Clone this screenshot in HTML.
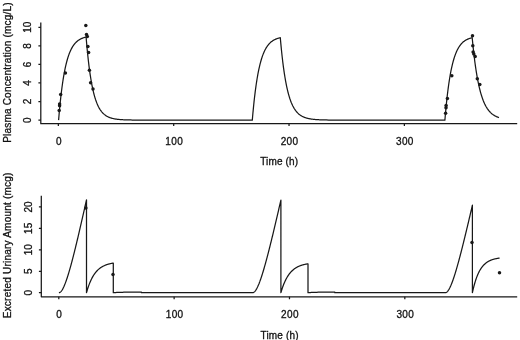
<!DOCTYPE html>
<html><head><meta charset="utf-8"><title>PK plot</title><style>html,body{margin:0;padding:0;background:#fff;width:520px;height:340px;overflow:hidden}svg{display:block}</style></head><body>
<svg width="520" height="340" viewBox="0 0 520 340">
<rect width="520" height="340" fill="#fff"/>
<g fill="none" stroke="#181818" stroke-width="1.25" stroke-linejoin="round" stroke-linecap="butt">
<path d="M40.8 22.6 V123.7 H517.2"/>
<path d="M41.3 195.7 V296.8 H517.2"/>
<path d="M40.8 120.1 H38.4 M40.8 101.54 H38.4 M40.8 82.98 H38.4 M40.8 64.42 H38.4 M40.8 45.86 H38.4 M40.8 27.3 H38.4 M41.3 292.7 H38.9 M41.3 271.25 H38.9 M41.3 249.8 H38.9 M41.3 228.35 H38.9 M41.3 206.9 H38.9 M58.35 123.7 V126.1 M58.8 296.8 V299.2 M173.69 123.7 V126.1 M174.14 296.8 V299.2 M289.03 123.7 V126.1 M289.48 296.8 V299.2 M404.37 123.7 V126.1 M404.82 296.8 V299.2"/>
<path d="M58.6 120.1 L58.89 116.68 L59.17 113.4 L59.46 110.24 L59.75 107.22 L60.03 104.32 L60.32 101.54 L60.61 98.86 L60.89 96.3 L61.18 93.84 L61.46 91.48 L61.75 89.22 L62.04 87.04 L62.32 84.96 L62.61 82.96 L62.9 81.03 L63.18 79.19 L63.47 77.42 L63.76 75.73 L64.04 74.1 L64.33 72.54 L64.62 71.04 L64.9 69.6 L65.19 68.22 L65.47 66.89 L65.76 65.62 L66.05 64.4 L66.33 63.23 L66.62 62.11 L66.91 61.03 L67.19 59.99 L67.48 59 L67.77 58.05 L68.05 57.13 L68.34 56.26 L68.63 55.42 L68.91 54.61 L69.2 53.83 L69.49 53.09 L69.77 52.38 L70.06 51.69 L70.34 51.03 L70.63 50.4 L70.92 49.8 L71.2 49.22 L71.49 48.66 L71.78 48.13 L72.06 47.61 L72.35 47.12 L72.64 46.65 L72.92 46.19 L73.21 45.76 L73.5 45.34 L73.78 44.94 L74.07 44.56 L74.36 44.19 L74.64 43.83 L74.93 43.49 L75.21 43.17 L75.5 42.86 L75.79 42.56 L76.07 42.27 L76.36 41.99 L76.65 41.73 L76.93 41.47 L77.22 41.23 L77.51 40.99 L77.79 40.77 L78.08 40.55 L78.37 40.35 L78.65 40.15 L78.94 39.96 L79.22 39.77 L79.51 39.6 L79.8 39.43 L80.08 39.27 L80.37 39.11 L80.66 38.96 L80.94 38.82 L81.23 38.68 L81.52 38.55 L81.8 38.43 L82.09 38.31 L82.38 38.19 L82.66 38.08 L82.95 37.97 L83.24 37.87 L83.52 37.77 L83.81 37.68 L84.09 37.58 L84.38 37.5 L84.67 37.41 L84.95 37.33 L85.24 37.26 L85.53 37.18 L85.81 37.11 L86.1 37.04 L86.39 40.5 L86.68 43.81 L86.96 46.99 L87.25 50.03 L87.54 52.94 L87.83 55.74 L88.12 58.42 L88.4 60.98 L88.69 63.44 L88.98 65.8 L89.27 68.06 L89.56 70.23 L89.84 72.3 L90.13 74.29 L90.42 76.2 L90.71 78.02 L91 79.77 L91.28 81.45 L91.57 83.06 L91.86 84.6 L92.15 86.08 L92.44 87.49 L92.72 88.85 L93.01 90.15 L93.3 91.4 L93.59 92.59 L93.88 93.74 L94.16 94.83 L94.45 95.88 L94.74 96.89 L95.03 97.86 L95.32 98.78 L95.6 99.67 L95.89 100.52 L96.18 101.33 L96.47 102.12 L96.76 102.86 L97.04 103.58 L97.33 104.27 L97.62 104.93 L97.91 105.56 L98.2 106.16 L98.48 106.74 L98.77 107.3 L99.06 107.83 L99.35 108.34 L99.64 108.83 L99.92 109.3 L100.21 109.75 L100.5 110.18 L100.79 110.59 L101.08 110.99 L101.36 111.37 L101.65 111.73 L101.94 112.08 L102.23 112.41 L102.52 112.73 L102.8 113.04 L103.09 113.33 L103.38 113.61 L103.67 113.88 L103.96 114.14 L104.24 114.39 L104.53 114.63 L104.82 114.86 L105.11 115.07 L105.4 115.28 L105.68 115.48 L105.97 115.68 L106.26 115.86 L106.55 116.04 L106.84 116.21 L107.12 116.37 L107.41 116.52 L107.7 116.67 L107.99 116.81 L108.28 116.95 L108.56 117.08 L108.85 117.21 L109.14 117.33 L109.43 117.44 L109.72 117.55 L110 117.66 L110.29 117.76 L110.58 117.86 L110.87 117.95 L111.16 118.04 L111.44 118.13 L111.73 118.21 L112.02 118.29 L112.31 118.36 L112.6 118.44 L112.88 118.5 L113.17 118.57 L113.46 118.63 L113.75 118.7 L114.04 118.75 L114.32 118.81 L114.61 118.86 L114.9 118.92 L115.19 118.96 L115.48 119.01 L115.76 119.06 L116.05 119.1 L116.34 119.14 L116.63 119.18 L116.92 119.22 L117.2 119.26 L117.49 119.29 L117.78 119.33 L118.07 119.36 L118.36 119.39 L118.64 119.42 L118.93 119.45 L119.22 119.47 L119.51 119.5 L119.8 119.52 L120.08 119.55 L120.37 119.57 L120.66 119.59 L120.95 119.61 L121.24 119.63 L121.52 119.65 L121.81 119.67 L122.1 119.69 L122.39 119.71 L122.68 119.72 L122.96 119.74 L123.25 119.75 L123.54 119.77 L123.83 119.78 L124.12 119.8 L124.4 119.81 L124.69 119.82 L124.98 119.83 L125.27 119.84 L125.56 119.85 L125.84 119.86 L126.13 119.87 L126.42 119.88 L126.71 119.89 L127 119.9 L127.28 119.91 L127.57 119.92 L127.86 119.93 L128.15 119.93 L128.44 119.94 L128.72 119.95 L129.01 119.95 L129.3 119.96 L129.59 119.96 L129.88 119.97 L130.16 119.98 L130.45 119.98 L130.74 119.99 L131.03 119.99 L131.32 119.99 L131.6 120 L131.89 120 L132.18 120.01 L134.48 120.03 L136.79 120.05 L139.09 120.07 L141.4 120.08 L143.7 120.08 L146 120.09 L148.31 120.09 L150.61 120.09 L152.92 120.1 L155.22 120.1 L157.52 120.1 L159.83 120.1 L162.13 120.1 L164.44 120.1 L166.74 120.1 L169.04 120.1 L171.35 120.1 L173.65 120.1 L175.96 120.1 L178.26 120.1 L180.56 120.1 L182.87 120.1 L185.17 120.1 L187.48 120.1 L189.78 120.1 L192.08 120.1 L194.39 120.1 L196.69 120.1 L199 120.1 L201.3 120.1 L203.6 120.1 L205.91 120.1 L208.21 120.1 L210.52 120.1 L212.82 120.1 L215.12 120.1 L217.43 120.1 L219.73 120.1 L222.04 120.1 L224.34 120.1 L226.64 120.1 L228.95 120.1 L231.25 120.1 L233.56 120.1 L235.86 120.1 L238.16 120.1 L240.47 120.1 L242.77 120.1 L245.08 120.1 L247.38 120.1 L249.68 120.1 L251.99 120.1 L252.3 120.1 L252.59 116.71 L252.88 113.45 L253.18 110.32 L253.47 107.32 L253.76 104.44 L254.05 101.68 L254.34 99.03 L254.63 96.49 L254.93 94.05 L255.22 91.7 L255.51 89.46 L255.8 87.3 L256.09 85.23 L256.38 83.25 L256.68 81.34 L256.97 79.51 L257.26 77.76 L257.55 76.07 L257.84 74.46 L258.13 72.91 L258.43 71.42 L258.72 69.99 L259.01 68.62 L259.3 67.31 L259.59 66.05 L259.88 64.84 L260.18 63.67 L260.47 62.56 L260.76 61.49 L261.05 60.46 L261.34 59.48 L261.63 58.53 L261.93 57.63 L262.22 56.76 L262.51 55.92 L262.8 55.12 L263.09 54.35 L263.38 53.61 L263.68 52.91 L263.97 52.23 L264.26 51.57 L264.55 50.95 L264.84 50.35 L265.13 49.77 L265.43 49.22 L265.72 48.69 L266.01 48.18 L266.3 47.69 L266.59 47.22 L266.88 46.77 L267.18 46.34 L267.47 45.93 L267.76 45.53 L268.05 45.15 L268.34 44.78 L268.63 44.43 L268.93 44.09 L269.22 43.77 L269.51 43.46 L269.8 43.16 L270.09 42.88 L270.38 42.6 L270.68 42.34 L270.97 42.09 L271.26 41.84 L271.55 41.61 L271.84 41.39 L272.13 41.18 L272.43 40.97 L272.72 40.77 L273.01 40.58 L273.3 40.4 L273.59 40.23 L273.88 40.06 L274.18 39.9 L274.47 39.75 L274.76 39.6 L275.05 39.46 L275.34 39.32 L275.63 39.19 L275.93 39.07 L276.22 38.95 L276.51 38.83 L276.8 38.72 L277.09 38.61 L277.38 38.51 L277.68 38.41 L277.97 38.32 L278.26 38.23 L278.55 38.14 L278.84 38.06 L279.13 37.98 L279.43 37.9 L279.72 37.83 L280.01 37.76 L280.3 37.69 L280.59 40.96 L280.88 44.11 L281.16 47.12 L281.45 50.02 L281.74 52.8 L282.03 55.47 L282.32 58.04 L282.6 60.5 L282.89 62.87 L283.18 65.14 L283.47 67.32 L283.76 69.41 L284.04 71.43 L284.33 73.36 L284.62 75.21 L284.91 76.99 L285.2 78.7 L285.48 80.35 L285.77 81.93 L286.06 83.44 L286.35 84.9 L286.64 86.29 L286.92 87.63 L287.21 88.92 L287.5 90.16 L287.79 91.35 L288.08 92.49 L288.36 93.59 L288.65 94.64 L288.94 95.65 L289.23 96.62 L289.52 97.55 L289.8 98.45 L290.09 99.31 L290.38 100.13 L290.67 100.92 L290.96 101.69 L291.24 102.42 L291.53 103.12 L291.82 103.79 L292.11 104.44 L292.4 105.06 L292.68 105.66 L292.97 106.23 L293.26 106.78 L293.55 107.31 L293.84 107.82 L294.12 108.31 L294.41 108.77 L294.7 109.22 L294.99 109.65 L295.28 110.07 L295.56 110.47 L295.85 110.85 L296.14 111.22 L296.43 111.57 L296.72 111.91 L297 112.23 L297.29 112.55 L297.58 112.85 L297.87 113.13 L298.16 113.41 L298.44 113.68 L298.73 113.93 L299.02 114.18 L299.31 114.41 L299.6 114.64 L299.88 114.85 L300.17 115.06 L300.46 115.26 L300.75 115.45 L301.04 115.64 L301.32 115.81 L301.61 115.98 L301.9 116.15 L302.19 116.31 L302.48 116.46 L302.76 116.6 L303.05 116.74 L303.34 116.87 L303.63 117 L303.92 117.12 L304.2 117.24 L304.49 117.36 L304.78 117.46 L305.07 117.57 L305.36 117.67 L305.64 117.77 L305.93 117.86 L306.22 117.95 L306.51 118.03 L306.8 118.11 L307.08 118.19 L307.37 118.27 L307.66 118.34 L307.95 118.41 L308.24 118.48 L308.52 118.54 L308.81 118.6 L309.1 118.66 L309.39 118.72 L309.68 118.78 L309.96 118.83 L310.25 118.88 L310.54 118.93 L310.83 118.97 L311.12 119.02 L311.4 119.06 L311.69 119.1 L311.98 119.14 L312.27 119.18 L312.56 119.22 L312.84 119.25 L313.13 119.29 L313.42 119.32 L313.71 119.35 L314 119.38 L314.28 119.41 L314.57 119.43 L314.86 119.46 L315.15 119.49 L315.44 119.51 L315.72 119.53 L316.01 119.56 L316.3 119.58 L316.59 119.6 L316.88 119.62 L317.16 119.64 L317.45 119.66 L317.74 119.67 L318.03 119.69 L318.32 119.71 L318.6 119.72 L318.89 119.74 L319.18 119.75 L319.47 119.77 L319.76 119.78 L320.04 119.79 L320.33 119.8 L320.62 119.82 L320.91 119.83 L321.2 119.84 L321.48 119.85 L321.77 119.86 L322.06 119.87 L322.35 119.88 L322.64 119.89 L322.92 119.89 L323.21 119.9 L323.5 119.91 L323.79 119.92 L324.08 119.93 L324.36 119.93 L324.65 119.94 L324.94 119.95 L325.23 119.95 L325.52 119.96 L325.8 119.96 L326.09 119.97 L326.38 119.97 L328.68 120.01 L330.99 120.03 L333.29 120.05 L335.6 120.07 L337.9 120.07 L340.2 120.08 L342.51 120.09 L344.81 120.09 L347.12 120.09 L349.42 120.1 L351.72 120.1 L354.03 120.1 L356.33 120.1 L358.64 120.1 L360.94 120.1 L363.24 120.1 L365.55 120.1 L367.85 120.1 L370.16 120.1 L372.46 120.1 L374.76 120.1 L377.07 120.1 L379.37 120.1 L381.68 120.1 L383.98 120.1 L386.28 120.1 L388.59 120.1 L390.89 120.1 L393.2 120.1 L395.5 120.1 L397.8 120.1 L400.11 120.1 L402.41 120.1 L404.72 120.1 L407.02 120.1 L409.32 120.1 L411.63 120.1 L413.93 120.1 L416.24 120.1 L418.54 120.1 L420.84 120.1 L423.15 120.1 L425.45 120.1 L427.76 120.1 L430.06 120.1 L432.36 120.1 L434.67 120.1 L436.97 120.1 L439.28 120.1 L441.58 120.1 L443.88 120.1 L444.9 120.1 L445.18 116.71 L445.47 113.45 L445.75 110.32 L446.04 107.32 L446.32 104.44 L446.61 101.68 L446.89 99.03 L447.17 96.49 L447.46 94.05 L447.74 91.7 L448.03 89.46 L448.31 87.3 L448.6 85.23 L448.88 83.25 L449.17 81.34 L449.45 79.51 L449.73 77.76 L450.02 76.07 L450.3 74.46 L450.59 72.91 L450.87 71.42 L451.16 69.99 L451.44 68.62 L451.72 67.31 L452.01 66.05 L452.29 64.84 L452.58 63.67 L452.86 62.56 L453.15 61.49 L453.43 60.46 L453.72 59.48 L454 58.53 L454.28 57.63 L454.57 56.76 L454.85 55.92 L455.14 55.12 L455.42 54.35 L455.71 53.61 L455.99 52.91 L456.27 52.23 L456.56 51.57 L456.84 50.95 L457.13 50.35 L457.41 49.77 L457.7 49.22 L457.98 48.69 L458.27 48.18 L458.55 47.69 L458.83 47.22 L459.12 46.77 L459.4 46.34 L459.69 45.93 L459.97 45.53 L460.26 45.15 L460.54 44.78 L460.82 44.43 L461.11 44.09 L461.39 43.77 L461.68 43.46 L461.96 43.16 L462.25 42.88 L462.53 42.6 L462.82 42.34 L463.1 42.09 L463.38 41.84 L463.67 41.61 L463.95 41.39 L464.24 41.18 L464.52 40.97 L464.81 40.77 L465.09 40.58 L465.38 40.4 L465.66 40.23 L465.94 40.06 L466.23 39.9 L466.51 39.75 L466.8 39.6 L467.08 39.46 L467.37 39.32 L467.65 39.19 L467.93 39.07 L468.22 38.95 L468.5 38.83 L468.79 38.72 L469.07 38.61 L469.36 38.51 L469.64 38.41 L469.93 38.32 L470.21 38.23 L470.49 38.14 L470.78 38.06 L471.06 37.98 L471.35 37.9 L471.63 37.83 L471.92 37.76 L472.2 37.69 L472.49 40.73 L472.78 43.65 L473.06 46.46 L473.35 49.17 L473.64 51.78 L473.93 54.3 L474.22 56.72 L474.5 59.05 L474.79 61.3 L475.08 63.46 L475.37 65.55 L475.66 67.56 L475.94 69.49 L476.23 71.35 L476.52 73.15 L476.81 74.87 L477.1 76.54 L477.38 78.14 L477.67 79.69 L477.96 81.17 L478.25 82.61 L478.54 83.99 L478.82 85.32 L479.11 86.6 L479.4 87.83 L479.69 89.02 L479.98 90.16 L480.26 91.26 L480.55 92.32 L480.84 93.35 L481.13 94.33 L481.42 95.28 L481.7 96.19 L481.99 97.07 L482.28 97.92 L482.57 98.74 L482.86 99.52 L483.14 100.28 L483.43 101.01 L483.72 101.71 L484.01 102.39 L484.3 103.04 L484.58 103.67 L484.87 104.27 L485.16 104.86 L485.45 105.42 L485.74 105.96 L486.02 106.48 L486.31 106.98 L486.6 107.46 L486.89 107.93 L487.18 108.38 L487.46 108.81 L487.75 109.22 L488.04 109.62 L488.33 110.01 L488.62 110.38 L488.9 110.74 L489.19 111.08 L489.48 111.41 L489.77 111.73 L490.06 112.04 L490.34 112.34 L490.63 112.62 L490.92 112.9 L491.21 113.16 L491.5 113.42 L491.78 113.67 L492.07 113.9 L492.36 114.13 L492.65 114.35 L492.94 114.56 L493.22 114.77 L493.51 114.96 L493.8 115.15 L494.09 115.33 L494.38 115.51 L494.66 115.68 L494.95 115.84 L495.24 116 L495.53 116.15 L495.82 116.29 L496.1 116.43 L496.39 116.57 L496.68 116.7 L496.97 116.82 L497.26 116.94 L497.54 117.06 L497.83 117.17 L498.12 117.28 L498.41 117.38 L498.7 117.48 L498.98 117.58"/>
<path d="M58.9 292.7 L59.19 292.68 L59.48 292.6 L59.76 292.48 L60.05 292.32 L60.34 292.12 L60.62 291.87 L60.91 291.58 L61.2 291.26 L61.49 290.89 L61.77 290.5 L62.06 290.07 L62.35 289.6 L62.64 289.1 L62.92 288.58 L63.21 288.02 L63.5 287.44 L63.79 286.83 L64.08 286.19 L64.36 285.52 L64.65 284.84 L64.94 284.12 L65.22 283.39 L65.51 282.63 L65.8 281.86 L66.09 281.06 L66.38 280.24 L66.66 279.41 L66.95 278.56 L67.24 277.68 L67.53 276.8 L67.81 275.89 L68.1 274.97 L68.39 274.04 L68.67 273.09 L68.96 272.13 L69.25 271.15 L69.54 270.16 L69.83 269.16 L70.11 268.15 L70.4 267.12 L70.69 266.09 L70.97 265.04 L71.26 263.99 L71.55 262.92 L71.84 261.84 L72.12 260.76 L72.41 259.66 L72.7 258.56 L72.99 257.45 L73.28 256.33 L73.56 255.2 L73.85 254.07 L74.14 252.93 L74.42 251.78 L74.71 250.63 L75 249.46 L75.29 248.3 L75.58 247.13 L75.86 245.95 L76.15 244.76 L76.44 243.57 L76.72 242.38 L77.01 241.18 L77.3 239.98 L77.59 238.77 L77.88 237.56 L78.16 236.34 L78.45 235.12 L78.74 233.89 L79.03 232.67 L79.31 231.43 L79.6 230.2 L79.89 228.96 L80.17 227.72 L80.46 226.47 L80.75 225.22 L81.04 223.97 L81.33 222.72 L81.61 221.46 L81.9 220.2 L82.19 218.94 L82.47 217.68 L82.76 216.41 L83.05 215.14 L83.34 213.87 L83.62 212.6 L83.91 211.33 L84.2 210.05 L84.49 208.77 L84.78 207.49 L85.06 206.21 L85.35 204.93 L85.64 203.64 L85.92 202.36 L86.21 201.07 L86.5 199.78 L86.5 292.7 L86.78 291.71 L87.06 290.75 L87.34 289.82 L87.62 288.92 L87.9 288.05 L88.17 287.21 L88.45 286.4 L88.73 285.61 L89.01 284.84 L89.29 284.11 L89.57 283.39 L89.85 282.7 L90.13 282.03 L90.41 281.38 L90.69 280.75 L90.97 280.14 L91.25 279.55 L91.53 278.98 L91.8 278.43 L92.08 277.9 L92.36 277.38 L92.64 276.88 L92.92 276.39 L93.2 275.92 L93.48 275.47 L93.76 275.03 L94.04 274.61 L94.32 274.19 L94.6 273.8 L94.88 273.41 L95.15 273.04 L95.43 272.67 L95.71 272.32 L95.99 271.99 L96.27 271.66 L96.55 271.34 L96.83 271.03 L97.11 270.73 L97.39 270.45 L97.67 270.17 L97.95 269.9 L98.22 269.64 L98.5 269.38 L98.78 269.14 L99.06 268.9 L99.34 268.67 L99.62 268.45 L99.9 268.23 L100.18 268.03 L100.46 267.83 L100.74 267.63 L101.02 267.44 L101.3 267.26 L101.58 267.08 L101.85 266.91 L102.13 266.74 L102.41 266.58 L102.69 266.43 L102.97 266.28 L103.25 266.13 L103.53 265.99 L103.81 265.86 L104.09 265.72 L104.37 265.6 L104.65 265.47 L104.92 265.35 L105.2 265.24 L105.48 265.12 L105.76 265.02 L106.04 264.91 L106.32 264.81 L106.6 264.71 L106.88 264.61 L107.16 264.52 L107.44 264.43 L107.72 264.35 L108 264.26 L108.27 264.18 L108.55 264.1 L108.83 264.03 L109.11 263.95 L109.39 263.88 L109.67 263.81 L109.95 263.75 L110.23 263.68 L110.51 263.62 L110.79 263.56 L111.07 263.5 L111.35 263.44 L111.62 263.39 L111.9 263.34 L112.18 263.28 L112.46 263.23 L112.74 263.19 L113.02 263.14 L113.3 263.09 L113.3 292.7 L114.47 292.62 L115.64 292.54 L116.81 292.48 L117.98 292.42 L119.15 292.37 L120.33 292.33 L121.5 292.29 L122.67 292.26 L123.84 292.23 L125.01 292.2 L126.18 292.18 L127.35 292.16 L128.52 292.14 L129.69 292.13 L130.86 292.11 L132.03 292.1 L133.2 292.09 L134.38 292.08 L135.55 292.08 L136.72 292.07 L137.89 292.06 L139.06 292.06 L140.23 292.05 L141.4 292.05 L141.4 292.7 L141.4 292.7 L252.6 292.7 L252.89 292.68 L253.19 292.6 L253.48 292.48 L253.78 292.32 L254.07 292.12 L254.37 291.87 L254.66 291.58 L254.96 291.26 L255.25 290.9 L255.55 290.5 L255.84 290.07 L256.14 289.61 L256.43 289.11 L256.73 288.59 L257.02 288.03 L257.32 287.45 L257.61 286.84 L257.91 286.2 L258.2 285.54 L258.5 284.86 L258.79 284.15 L259.09 283.42 L259.38 282.66 L259.68 281.89 L259.97 281.09 L260.26 280.28 L260.56 279.45 L260.85 278.59 L261.15 277.73 L261.44 276.84 L261.74 275.94 L262.03 275.02 L262.33 274.09 L262.62 273.15 L262.92 272.19 L263.21 271.21 L263.51 270.23 L263.8 269.23 L264.1 268.22 L264.39 267.2 L264.69 266.16 L264.98 265.12 L265.28 264.07 L265.57 263 L265.87 261.93 L266.16 260.85 L266.46 259.75 L266.75 258.65 L267.04 257.55 L267.34 256.43 L267.63 255.31 L267.93 254.18 L268.22 253.04 L268.52 251.89 L268.81 250.74 L269.11 249.58 L269.4 248.42 L269.7 247.25 L269.99 246.08 L270.29 244.9 L270.58 243.71 L270.88 242.52 L271.17 241.32 L271.47 240.12 L271.76 238.92 L272.06 237.71 L272.35 236.5 L272.65 235.28 L272.94 234.06 L273.24 232.83 L273.53 231.6 L273.82 230.37 L274.12 229.14 L274.41 227.9 L274.71 226.66 L275 225.41 L275.3 224.16 L275.59 222.91 L275.89 221.66 L276.18 220.41 L276.48 219.15 L276.77 217.89 L277.07 216.62 L277.36 215.36 L277.66 214.09 L277.95 212.82 L278.25 211.55 L278.54 210.28 L278.84 209 L279.13 207.73 L279.43 206.45 L279.72 205.17 L280.02 203.89 L280.31 202.61 L280.61 201.32 L280.9 200.04 L280.9 292.7 L281.18 291.73 L281.46 290.8 L281.75 289.89 L282.03 289.01 L282.31 288.16 L282.59 287.34 L282.88 286.55 L283.16 285.78 L283.44 285.03 L283.72 284.31 L284.01 283.61 L284.29 282.93 L284.57 282.28 L284.85 281.64 L285.13 281.03 L285.42 280.44 L285.7 279.86 L285.98 279.3 L286.26 278.77 L286.55 278.24 L286.83 277.74 L287.11 277.25 L287.39 276.78 L287.67 276.32 L287.96 275.88 L288.24 275.45 L288.52 275.03 L288.8 274.63 L289.09 274.24 L289.37 273.86 L289.65 273.5 L289.93 273.15 L290.22 272.8 L290.5 272.47 L290.78 272.15 L291.06 271.84 L291.34 271.54 L291.63 271.25 L291.91 270.97 L292.19 270.7 L292.47 270.43 L292.76 270.18 L293.04 269.93 L293.32 269.69 L293.6 269.46 L293.89 269.24 L294.17 269.02 L294.45 268.81 L294.73 268.61 L295.01 268.41 L295.3 268.22 L295.58 268.04 L295.86 267.86 L296.14 267.68 L296.43 267.52 L296.71 267.36 L296.99 267.2 L297.27 267.05 L297.56 266.9 L297.84 266.76 L298.12 266.62 L298.4 266.49 L298.68 266.36 L298.97 266.23 L299.25 266.11 L299.53 266 L299.81 265.88 L300.1 265.77 L300.38 265.67 L300.66 265.56 L300.94 265.47 L301.23 265.37 L301.51 265.28 L301.79 265.19 L302.07 265.1 L302.35 265.01 L302.64 264.93 L302.92 264.85 L303.2 264.78 L303.48 264.7 L303.77 264.63 L304.05 264.56 L304.33 264.49 L304.61 264.43 L304.89 264.36 L305.18 264.3 L305.46 264.24 L305.74 264.19 L306.02 264.13 L306.31 264.08 L306.59 264.03 L306.87 263.98 L307.15 263.93 L307.44 263.88 L307.72 263.84 L308 263.79 L308 292.7 L309.12 292.62 L310.23 292.54 L311.35 292.48 L312.47 292.42 L313.58 292.37 L314.7 292.33 L315.82 292.29 L316.93 292.26 L318.05 292.23 L319.17 292.2 L320.28 292.18 L321.4 292.16 L322.52 292.14 L323.63 292.13 L324.75 292.11 L325.87 292.1 L326.98 292.09 L328.1 292.08 L329.22 292.08 L330.33 292.07 L331.45 292.06 L332.57 292.06 L333.68 292.05 L334.8 292.05 L334.8 292.7 L334.8 292.7 L445.3 292.7 L445.58 292.68 L445.86 292.61 L446.15 292.5 L446.43 292.34 L446.71 292.15 L446.99 291.92 L447.28 291.65 L447.56 291.34 L447.84 291 L448.12 290.63 L448.41 290.22 L448.69 289.78 L448.97 289.31 L449.25 288.82 L449.53 288.29 L449.82 287.74 L450.1 287.17 L450.38 286.57 L450.66 285.94 L450.95 285.29 L451.23 284.62 L451.51 283.93 L451.79 283.22 L452.07 282.49 L452.36 281.74 L452.64 280.97 L452.92 280.18 L453.2 279.38 L453.49 278.56 L453.77 277.72 L454.05 276.87 L454.33 276.01 L454.62 275.13 L454.9 274.23 L455.18 273.33 L455.46 272.41 L455.74 271.47 L456.03 270.53 L456.31 269.58 L456.59 268.61 L456.87 267.64 L457.16 266.65 L457.44 265.66 L457.72 264.65 L458 263.64 L458.29 262.62 L458.57 261.58 L458.85 260.55 L459.13 259.5 L459.41 258.45 L459.7 257.38 L459.98 256.32 L460.26 255.24 L460.54 254.16 L460.83 253.07 L461.11 251.98 L461.39 250.88 L461.67 249.78 L461.96 248.67 L462.24 247.55 L462.52 246.43 L462.8 245.31 L463.08 244.18 L463.37 243.04 L463.65 241.91 L463.93 240.76 L464.21 239.62 L464.5 238.47 L464.78 237.32 L465.06 236.16 L465.34 235 L465.62 233.83 L465.91 232.67 L466.19 231.5 L466.47 230.33 L466.75 229.15 L467.04 227.97 L467.32 226.79 L467.6 225.61 L467.88 224.42 L468.17 223.23 L468.45 222.04 L468.73 220.85 L469.01 219.66 L469.29 218.46 L469.58 217.26 L469.86 216.06 L470.14 214.86 L470.42 213.65 L470.71 212.45 L470.99 211.24 L471.27 210.03 L471.55 208.82 L471.84 207.61 L472.12 206.4 L472.4 205.18 L472.4 292.7 L472.68 291.39 L472.97 290.13 L473.25 288.91 L473.53 287.74 L473.82 286.61 L474.1 285.53 L474.38 284.48 L474.67 283.47 L474.95 282.5 L475.23 281.57 L475.52 280.66 L475.8 279.8 L476.08 278.96 L476.37 278.16 L476.65 277.38 L476.93 276.63 L477.22 275.92 L477.5 275.22 L477.78 274.56 L478.07 273.91 L478.35 273.29 L478.63 272.7 L478.92 272.12 L479.2 271.57 L479.48 271.04 L479.77 270.52 L480.05 270.03 L480.33 269.55 L480.62 269.09 L480.9 268.65 L481.18 268.23 L481.47 267.82 L481.75 267.42 L482.03 267.04 L482.32 266.68 L482.6 266.32 L482.88 265.98 L483.17 265.66 L483.45 265.34 L483.73 265.04 L484.02 264.75 L484.3 264.46 L484.58 264.19 L484.87 263.93 L485.15 263.68 L485.43 263.44 L485.72 263.2 L486 262.98 L486.28 262.76 L486.57 262.55 L486.85 262.35 L487.13 262.16 L487.42 261.97 L487.7 261.79 L487.98 261.62 L488.27 261.45 L488.55 261.29 L488.83 261.14 L489.12 260.99 L489.4 260.85 L489.68 260.71 L489.97 260.57 L490.25 260.45 L490.53 260.32 L490.82 260.2 L491.1 260.09 L491.38 259.98 L491.67 259.87 L491.95 259.77 L492.23 259.67 L492.52 259.58 L492.8 259.49 L493.08 259.4 L493.37 259.31 L493.65 259.23 L493.93 259.15 L494.22 259.08 L494.5 259 L494.78 258.93 L495.07 258.87 L495.35 258.8 L495.63 258.74 L495.92 258.68 L496.2 258.62 L496.48 258.56 L496.77 258.51 L497.05 258.46 L497.33 258.41 L497.62 258.36 L497.9 258.31 L498.18 258.27 L498.47 258.22 L498.75 258.18 L499.03 258.14 L499.32 258.1 L499.6 258.07"/>
</g>
<g fill="#181818">
<circle cx="59.2" cy="110.6" r="1.75"/>
<circle cx="59.6" cy="105.8" r="1.75"/>
<circle cx="59.6" cy="104" r="1.75"/>
<circle cx="60.7" cy="94.6" r="1.75"/>
<circle cx="65.4" cy="72.9" r="1.75"/>
<circle cx="85.8" cy="25.5" r="1.75"/>
<circle cx="86.5" cy="34.4" r="1.75"/>
<circle cx="87.3" cy="36.4" r="1.75"/>
<circle cx="87.9" cy="46.5" r="1.75"/>
<circle cx="88.6" cy="52.6" r="1.75"/>
<circle cx="89.4" cy="70.2" r="1.75"/>
<circle cx="90.6" cy="82.7" r="1.75"/>
<circle cx="93" cy="89" r="1.75"/>
<circle cx="445.6" cy="113.2" r="1.75"/>
<circle cx="446" cy="107.8" r="1.75"/>
<circle cx="446.1" cy="105.5" r="1.75"/>
<circle cx="447.4" cy="98.6" r="1.75"/>
<circle cx="451.8" cy="75.7" r="1.75"/>
<circle cx="472.5" cy="35.7" r="1.75"/>
<circle cx="472.8" cy="45.7" r="1.75"/>
<circle cx="473.1" cy="51.9" r="1.75"/>
<circle cx="473.8" cy="54" r="1.75"/>
<circle cx="475.2" cy="56.6" r="1.75"/>
<circle cx="477.3" cy="78.7" r="1.75"/>
<circle cx="479.8" cy="84.5" r="1.75"/>
<circle cx="85.9" cy="207.9" r="1.75"/>
<circle cx="113" cy="274.4" r="1.75"/>
<circle cx="472" cy="242.4" r="1.75"/>
<circle cx="499.5" cy="272.8" r="1.75"/>
</g>
<g font-family="'Liberation Sans', Arial, Helvetica, sans-serif" font-size="10" fill="#111" stroke="#111" stroke-width="0.3" text-anchor="middle">
<text x="58.85" y="144.8" letter-spacing="0.35">0</text>
<text x="59.3" y="317.9" letter-spacing="0.35">0</text>
<text x="174.19" y="144.8" letter-spacing="0.35">100</text>
<text x="174.64" y="317.9" letter-spacing="0.35">100</text>
<text x="289.53" y="144.8" letter-spacing="0.35">200</text>
<text x="289.98" y="317.9" letter-spacing="0.35">200</text>
<text x="404.87" y="144.8" letter-spacing="0.35">300</text>
<text x="405.32" y="317.9" letter-spacing="0.35">300</text>
<text x="279.2" y="165.3" letter-spacing="0.15">Time (h)</text>
<text x="279.6" y="338.5" letter-spacing="0.15">Time (h)</text>
<text transform="translate(31.4 120.1) rotate(-90)">0</text>
<text transform="translate(31.4 101.54) rotate(-90)">2</text>
<text transform="translate(31.4 82.98) rotate(-90)">4</text>
<text transform="translate(31.4 64.42) rotate(-90)">6</text>
<text transform="translate(31.4 45.86) rotate(-90)">8</text>
<text transform="translate(31.4 27.3) rotate(-90)">10</text>
<text transform="translate(31.8 292.7) rotate(-90)">0</text>
<text transform="translate(31.8 271.25) rotate(-90)">5</text>
<text transform="translate(31.8 249.8) rotate(-90)">10</text>
<text transform="translate(31.8 228.35) rotate(-90)">15</text>
<text transform="translate(31.8 206.9) rotate(-90)">20</text>
<text transform="translate(11.4 72.5) rotate(-90)" letter-spacing="0.2">Plasma Concentration (mcg/L)</text>
<text transform="translate(11.4 245.3) rotate(-90)" letter-spacing="0.22">Excreted Urinary Amount (mcg)</text>
</g>
</svg>
</body></html>
